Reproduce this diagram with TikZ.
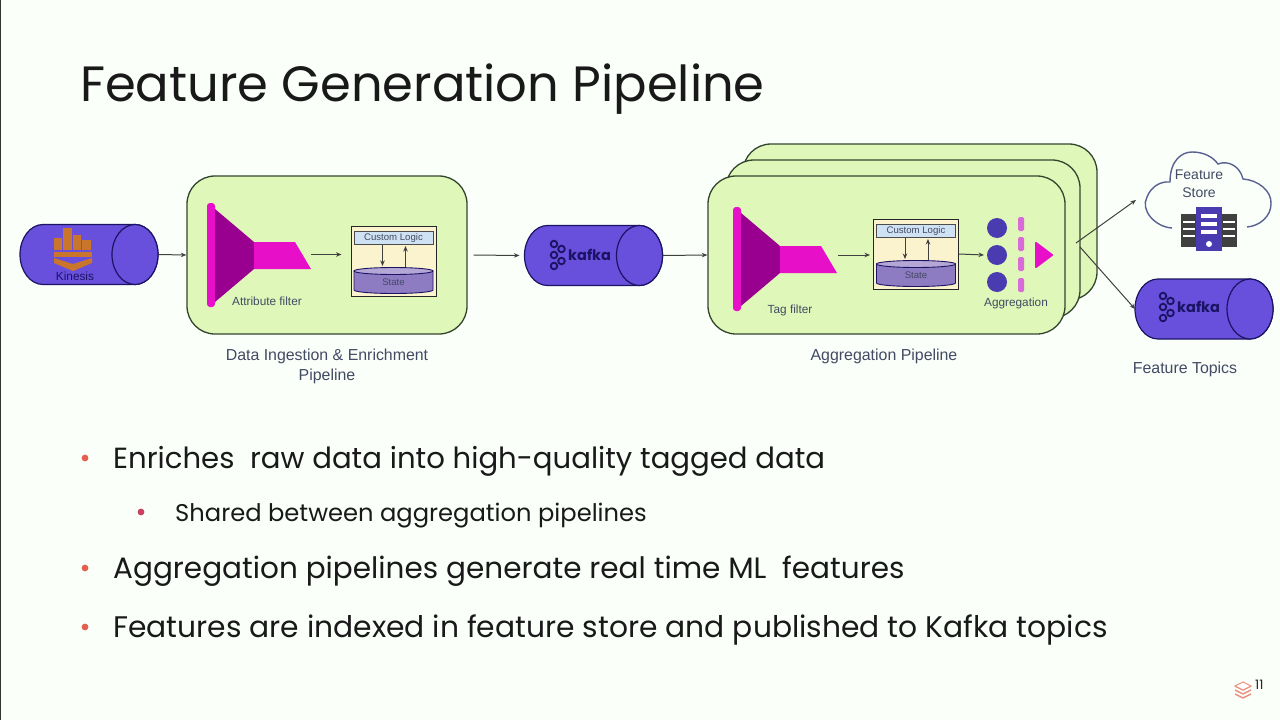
\documentclass[tikz,border=0pt]{standalone}
\usepackage{fontspec}
\setmainfont{Liberation Sans}
\newfontfamily\slidefont{Poppins}
\usetikzlibrary{arrows.meta}
\definecolor{panelgreen}{HTML}{DFF7B8}
\definecolor{paneledge}{HTML}{33452F}
\definecolor{logpurple}{HTML}{684FDC}
\definecolor{lognavy}{HTML}{1B1464}
\definecolor{funnelpink}{HTML}{E80FC8}
\definecolor{funneldark}{HTML}{99008F}
\definecolor{labelgrey}{HTML}{434A63}
\definecolor{bulletred}{HTML}{E4604E}
\definecolor{subbullet}{HTML}{C9415F}
\definecolor{kinesisorange}{HTML}{C9752B}
\definecolor{dotblue}{HTML}{4A3BB0}
\definecolor{dashpink}{HTML}{D86BD8}
\definecolor{logicyellow}{HTML}{FBF2CE}
\definecolor{logicblue}{HTML}{CFE2F3}
\definecolor{statebody}{HTML}{8E7CC3}
\definecolor{statetop}{HTML}{B4A7D6}
\definecolor{cloudedge}{HTML}{5A6090}
\tikzset{
    panel/.style={draw=paneledge, line width=1.3pt, fill=panelgreen, rounded corners=28pt},
    logbody/.style={draw=lognavy, line width=1.2pt, fill=logpurple},
    flow/.style={-{Stealth[length=5.5pt, width=4.5pt]}, line width=1pt, draw=black!75},
    tinylabel/.style={text=labelgrey, font=\fontsize{11.8}{13}\selectfont},
    pipelabel/.style={text=labelgrey, align=center, font=\fontsize{15.9}{20}\selectfont},
    bigbullet/.style={anchor=base west, inner sep=0pt, text=black!90, font=\slidefont\fontsize{29.5}{32}\selectfont}
}
\newcommand{\logcyl}[3]{
    \node[minimum width=138pt, minimum height=60pt, inner sep=0pt, outer sep=0pt] (#3) at (#1, #2) {};
    \draw[logbody] (#1 - 46, #2 - 30) arc[start angle=270, end angle=90, x radius=23, y radius=30] -- (#1 + 46, #2 + 30) arc[start angle=90, end angle=-90, x radius=23, y radius=30] -- cycle;
    \draw[logbody] (#1 + 46, #2) circle[x radius=23, y radius=30];
}
\newcommand{\kafkalogo}[3]{
    \begin{scope}[shift={(#1, #2)}]
        \foreach \lx/\ly in {-14/-11, -14/0, -14/11, -6.5/-6, -6.5/6}
            \draw[lognavy, line width=1.8pt] (\lx, \ly) circle[radius=3.3];
        \node[anchor=west, inner sep=0pt, text=lognavy, font=\slidefont\bfseries\fontsize{14.5}{16}\selectfont] (#3) at (0, 0) {kafka};
    \end{scope}
}
\newcommand{\funnelshape}[2]{
    \begin{scope}[shift={(#1, #2)}]
        \fill[funnelpink, rounded corners=3pt] (0, -52) rectangle (8, 52);
        \fill[funneldark] (8, -46) -- (47, -13) -- (47, 14) -- (8, 47) -- cycle;
        \fill[funnelpink] (47, -13) -- (88, -13) -- (104, 14) -- (47, 14) -- cycle;
    \end{scope}
}
\newcommand{\logicbox}[3]{
    \node[draw=black!85, line width=1pt, fill=logicyellow, minimum width=85pt, minimum height=70pt, inner sep=0pt] (#3box) at (#1, #2) {};
    \node[draw=black!70, line width=1pt, fill=logicblue, minimum width=79pt, minimum height=13pt, inner sep=0pt, text=labelgrey, font=\fontsize{9.6}{10}\selectfont] (#3logic) at (#1, #2 - 23) {Custom Logic};
    \draw[draw=lognavy, line width=0.9pt, fill=statebody] (#1 - 39.5, #2 + 10) -- (#1 - 39.5, #2 + 29) arc[start angle=180, end angle=0, x radius=39.5, y radius=3.5] -- (#1 + 39.5, #2 + 10) -- cycle;
    \draw[draw=lognavy, line width=0.9pt, fill=statetop] (#1, #2 + 10) circle[x radius=39.5, y radius=3.5];
    \node[inner sep=0pt, text=labelgrey, font=\fontsize{9.6}{10}\selectfont] (#3state) at (#1, #2 + 21) {State};
    \draw[flow] (#1 - 11, #2 - 16) -- (#1 - 11, #2 + 5);
    \draw[flow] (#1 + 12, #2 + 6) -- (#1 + 12, #2 - 15);
}
\begin{document}
\begin{tikzpicture}[x=1pt, y=-1pt]
    \useasboundingbox (0, 0) rectangle (1280, 720);
    \fill[white!98!green] (0, 0) rectangle (1280, 720);
    \draw[black!80, line width=1.2pt] (0, 0) -- (0, 720);
    \node[anchor=base west, inner sep=0pt, text=black!90, font=\slidefont\fontsize{49.6}{54}\selectfont] (title) at (80, 101) {Feature Generation Pipeline};

    \logcyl{89}{254.5}{kinesis}
    \fill[kinesisorange] (54, 238) rectangle (62, 250);
    \fill[kinesisorange] (63, 228) rectangle (72, 250);
    \fill[kinesisorange] (73, 235) rectangle (81, 250);
    \fill[kinesisorange] (82, 240) rectangle (91, 250);
    \fill[kinesisorange] (54, 252) rectangle (92, 257);
    \fill[kinesisorange] (54, 258) -- (73, 264) -- (92, 258) -- (92, 263) -- (73, 271) -- (54, 263) -- cycle;
    \node[tinylabel, text=lognavy, inner sep=0pt] (kinesistext) at (75, 276) {Kinesis};

    \node[panel, minimum width=280pt, minimum height=158pt] (enrichpanel) at (327, 255) {};
    \funnelshape{207}{255}
    \logicbox{393.5}{261}{enrich}
    \node[tinylabel] (attrlabel) at (267, 301) {Attribute filter};
    \coordinate (attrout) at (311, 254.5);
    \node[pipelabel] (enrichlabel) at (327, 366) {Data Ingestion \& Enrichment\\Pipeline};

    \logcyl{593.5}{255.5}{kafkain}
    \kafkalogo{568}{255}{kafkaintext}

    \node[panel, minimum width=354pt, minimum height=156pt] (aggback) at (920, 222) {};
    \node[panel, minimum width=354pt, minimum height=158pt] (aggmid) at (903, 239) {};
    \node[panel, minimum width=357pt, minimum height=158pt] (aggfront) at (886.5, 255) {};
    \funnelshape{733}{259}
    \logicbox{916}{254}{agg}
    \node[tinylabel] (taglabel) at (790, 310) {Tag filter};
    \coordinate (tagout) at (838, 255);
    \foreach \dy in {228, 255, 282}
        \fill[dotblue] (997, \dy) circle[radius=10];
    \foreach \dy in {224, 244, 264, 285}
        \fill[dashpink, rounded corners=1.5pt] (1018, \dy - 7) rectangle (1024, \dy + 7);
    \fill[funnelpink, draw=funnelpink, line width=2pt, line join=round] (1036, 243) -- (1052, 255) -- (1036, 267) -- cycle;
    \coordinate (dotsin) at (984, 255);
    \node[tinylabel] (agglabel) at (1016, 303) {Aggregation};
    \node[pipelabel] (aggpipelabel) at (884, 356) {Aggregation Pipeline};

    \draw[cloudedge, line width=1.4pt] (1172, 228) .. controls (1155, 227) and (1140, 210) .. (1147, 197) .. controls (1151, 187) and (1160, 181) .. (1170, 182) .. controls (1170, 160) and (1182, 152) .. (1192, 152) .. controls (1204, 152) and (1213, 157) .. (1218, 164) .. controls (1228, 160) and (1240, 166) .. (1243, 179) .. controls (1258, 180) and (1272, 191) .. (1271, 204) .. controls (1271, 216) and (1260, 226) .. (1247, 227);
    \node[tinylabel, align=center, font=\fontsize{14}{18}\selectfont] (storetext) at (1199, 184) {Feature\\Store};
    \fill[black!75] (1181, 214) rectangle (1197, 247);
    \fill[black!75] (1221, 214) rectangle (1237, 247);
    \fill[dotblue] (1196, 207) rectangle (1222, 251);
    \foreach \by in {214, 222, 230}
        \fill[white] (1201, \by) rectangle (1217, \by + 4);
    \fill[white] (1209, 244) circle[radius=3];
    \foreach \by in {221, 228, 235}
    {
        \fill[white] (1183, \by) rectangle (1195, \by + 2);
        \fill[white] (1223, \by) rectangle (1235, \by + 2);
    }
    \coordinate (storein) at (1136, 200);

    \logcyl{1204}{309}{kafkaout}
    \kafkalogo{1177}{307}{kafkaouttext}
    \node[pipelabel] (topicslabel) at (1185, 369) {Feature Topics};
    \coordinate (aggoutup) at (1076, 243);
    \coordinate (aggoutdown) at (1080, 247);

    \draw[flow] (kinesis.east) -- (enrichpanel.west);
    \draw[flow, shorten >=9pt] (attrout) -- (attrout -| enrichbox.west);
    \draw[flow, shorten <=6pt, shorten >=5pt] (enrichpanel.east) -- (kafkain.west);
    \draw[flow] (kafkain.east) -- (aggfront.west);
    \draw[flow, shorten >=3pt] (tagout) -- (tagout -| aggbox.west);
    \draw[flow] (aggbox.east) -- (dotsin);
    \draw[flow] (aggoutup) -- (storein);
    \draw[flow] (aggoutdown) -- (kafkaout.west);

    \foreach \by in {458, 568, 627}
        \fill[bulletred] (85, \by) circle[radius=3.4];
    \fill[subbullet] (141, 512) circle[radius=3.4];
    \node[bigbullet, font=\slidefont\fontsize{29.15}{32}\selectfont] (enrichline) at (113, 468) {Enriches\ \ raw data into high-quality tagged data};
    \node[bigbullet, font=\slidefont\fontsize{24.2}{28}\selectfont] (sharedline) at (175, 521) {Shared between aggregation pipelines};
    \node[bigbullet] (aggline) at (113, 578) {Aggregation pipelines generate real time ML\ \ features};
    \node[bigbullet, font=\slidefont\fontsize{29.75}{32}\selectfont] (storeline) at (113, 637) {Features are indexed in feature store and published to Kafka topics};

    \foreach \ly in {686, 690, 694}
        \draw[bulletred!70!white, line width=1.4pt, line join=round] (1235, \ly) -- (1243, \ly + 4) -- (1251, \ly);
    \draw[bulletred!70!white, line width=1pt, fill=white] (1235, 686) -- (1243, 682) -- (1251, 686) -- (1243, 690) -- cycle;
    \node[anchor=base west, inner sep=0pt, text=black!85, font=\slidefont\fontsize{13}{14}\selectfont] (pagenum) at (1255, 689) {11};
\end{tikzpicture}
\end{document}
